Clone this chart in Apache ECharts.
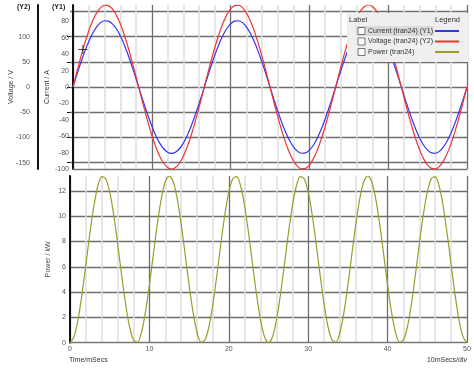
<!DOCTYPE html>
<html><head><meta charset="utf-8">
<script src="https://cdn.jsdelivr.net/npm/echarts@6/dist/echarts.min.js"></script>
<style>html,body{margin:0;padding:0;background:#fff}#c{width:474px;height:370px}</style>
</head><body><div id="c"></div>
<script>
// time axis (ms)
const times = [0,0.5,1,1.5,2,2.5,3,3.5,4,4.5,5,5.5,6,6.5,7,7.5,8,8.5,9,9.5,10,10.5,11,11.5,12,12.5,13,13.5,14,14.5,15,15.5,16,16.5,17,17.5,18,18.5,19,19.5,20,20.5,21,21.5,22,22.5,23,23.5,24,24.5,25,25.5,26,26.5,27,27.5,28,28.5,29,29.5,30,30.5,31,31.5,32,32.5,33,33.5,34,34.5,35,35.5,36,36.5,37,37.5,38,38.5,39,39.5,40,40.5,41,41.5,42,42.5,43,43.5,44,44.5,45,45.5,46,46.5,47,47.5,48,48.5,49,49.5,50];
// Current (A)
const current = [0,15.2,29.8,43.4,55.4,65.5,73.3,78.5,80.8,80.4,77.0,71.0,62.4,51.6,39.0,25.0,10.1,-5.1,-20.1,-34.5,-47.6,-59.0,-68.4,-75.3,-79.6,-81.0,-79.6,-75.3,-68.4,-59.0,-47.6,-34.5,-20.1,-5.1,10.1,25.0,39.0,51.6,62.4,71.0,77.0,80.4,80.8,78.5,73.3,65.5,55.4,43.4,29.8,15.2,0,
 -15.2,-29.8,-43.4,-55.4,-65.5,-73.3,-78.5,-80.8,-80.4,-77.0,-71.0,-62.4,-51.6,-39.0,-25.0,-10.1,5.1,20.1,34.5,47.6,59.0,68.4,75.3,79.6,81.0,79.6,75.3,68.4,59.0,47.6,34.5,20.1,5.1,-10.1,-25.0,-39.0,-51.6,-62.4,-71.0,-77.0,-80.4,-80.8,-78.5,-73.3,-65.5,-55.4,-43.4,-29.8,-15.2,0];
// Voltage (V)
const voltage = [0,30.5,59.9,87.1,111.3,131.5,147.1,157.5,162.3,161.3,154.7,142.5,125.3,103.6,78.3,50.2,20.4,-10.2,-40.4,-69.2,-95.6,-118.5,-137.3,-151.2,-159.7,-162.6,-159.7,-151.2,-137.3,-118.5,-95.6,-69.2,-40.4,-10.2,20.4,50.2,78.3,103.6,125.3,142.5,154.7,161.3,162.3,157.5,147.1,131.5,111.3,87.1,59.9,30.5,0,
 -30.5,-59.9,-87.1,-111.3,-131.5,-147.1,-157.5,-162.3,-161.3,-154.7,-142.5,-125.3,-103.6,-78.3,-50.2,-20.4,10.2,40.4,69.2,95.6,118.5,137.3,151.2,159.7,162.6,159.7,151.2,137.3,118.5,95.6,69.2,40.4,10.2,-20.4,-50.2,-78.3,-103.6,-125.3,-142.5,-154.7,-161.3,-162.3,-157.5,-147.1,-131.5,-111.3,-87.1,-59.9,-30.5,0];
// Power (kW)
const power = [0,0.46,1.78,3.78,6.17,8.62,10.78,12.36,13.12,12.96,11.91,10.11,7.82,5.35,3.06,1.26,0.21,0.05,0.82,2.39,4.55,7.00,9.39,11.39,12.71,13.17,12.71,11.39,9.39,7.00,4.55,2.39,0.82,0.05,0.21,1.26,3.06,5.35,7.82,10.11,11.91,12.96,13.12,12.36,10.78,8.62,6.17,3.78,1.78,0.46,0,
 0.46,1.78,3.78,6.17,8.62,10.78,12.36,13.12,12.96,11.91,10.11,7.82,5.35,3.06,1.26,0.21,0.05,0.82,2.39,4.55,7.00,9.39,11.39,12.71,13.17,12.71,11.39,9.39,7.00,4.55,2.39,0.82,0.05,0.21,1.26,3.06,5.35,7.82,10.11,11.91,12.96,13.12,12.36,10.78,8.62,6.17,3.78,1.78,0.46,0];
// cursor on voltage trace
const cursorPoint = [1.26, 74.4];
const seriesNames = ['Current (tran24) (Y1)', 'Voltage (tran24) (Y2)', 'Power (tran24)'];
const colors = ['#3535f0', '#ee3535', '#9c9c2a'];

const zip = (xs, ys) => xs.map((x, i) => [x, ys[i]]);
const vMax = Math.max(...voltage.map(Math.abs));
const pMax = Math.max(...power);

const FONT = 'Liberation Sans';
const lab = {fontSize: 7, color: '#555', fontFamily: FONT};
const major = {show: true, lineStyle: {color: '#6e6e6e', width: 1.3}};
const minor = {show: true, lineStyle: {color: '#dedede', width: 1.5}};
const nameStyle = {fontSize: 7, color: '#444', fontFamily: FONT};

const topY = 5, half = 82, L = 70, R = 7;
const g1top = topY + half * (1 - 150 / vMax);
const g1h = 2 * half * 150 / vMax;

function xAx(grid, labels, line) {
  return {type: 'value', gridIndex: grid, min: 0, max: 50, interval: 10,
    axisLine: {show: line, onZero: false, lineStyle: {color: '#777', width: 1.3}},
    axisTick: {show: false}, minorTick: {show: false, splitNumber: 5},
    axisLabel: Object.assign({show: labels, margin: 3}, lab),
    splitLine: line ? major : {show: false},
    minorSplitLine: line ? minor : {show: false}};
}

const Z = 100;
const chart = echarts.init(document.getElementById('c'), null, {renderer: 'canvas'});
chart.setOption({
  animation: false,
  grid: [
    {left: L, right: R, top: topY, height: 2 * half},
    {left: L, right: R, top: g1top, height: g1h},
    {left: L, right: R, top: 176, height: 166.7}
  ],
  xAxis: [xAx(0, false, true), xAx(1, false, false), xAx(2, true, true)],
  yAxis: [
    {type: 'value', gridIndex: 0, min: -100, max: 100, interval: 20,
     axisLine: {show: true, lineStyle: {color: '#111', width: 2}}, axisTick: {show: false},
     axisLabel: Object.assign({margin: 4, showMaxLabel: false}, lab), splitLine: {show: false},
     name: 'Current / A', nameLocation: 'middle', nameGap: 22, nameMoveOverlap: false,
     nameTextStyle: nameStyle},
    {type: 'value', gridIndex: 0, min: -vMax, max: vMax, position: 'left', offset: 35,
     axisLine: {show: true, lineStyle: {color: '#111', width: 2}}, axisTick: {show: false},
     axisLabel: {show: false}, splitLine: {show: false},
     name: 'Voltage / V', nameLocation: 'middle', nameGap: 23, nameMoveOverlap: false,
     nameTextStyle: nameStyle},
    {type: 'value', gridIndex: 1, min: -150, max: 150, interval: 50, position: 'left', offset: 35,
     axisLine: {show: false}, axisTick: {show: true, length: 3, lineStyle: {color: '#111', width: 1}},
     axisLabel: Object.assign({margin: 5, showMaxLabel: false}, lab), splitLine: major},
    {type: 'value', gridIndex: 2, min: 0, max: pMax, interval: 2,
     axisLine: {show: true, lineStyle: {color: '#111', width: 2}}, axisTick: {show: false},
     axisLabel: Object.assign({margin: 4, showMaxLabel: false}, lab),
     splitLine: {show: true, showMaxLine: false, showMinLine: false, lineStyle: {color: '#6e6e6e', width: 1.3}},
     name: 'Power / kW', nameLocation: 'middle', nameGap: 18, nameMoveOverlap: false,
     nameTextStyle: nameStyle}
  ],
  series: [
    {name: seriesNames[0], type: 'line', xAxisIndex: 0, yAxisIndex: 0, data: zip(times, current),
     showSymbol: false, smooth: 0.3, lineStyle: {color: colors[0], width: 1.2}, z: 3},
    {name: seriesNames[1], type: 'line', xAxisIndex: 0, yAxisIndex: 1, data: zip(times, voltage),
     showSymbol: false, smooth: 0.3, lineStyle: {color: colors[1], width: 1.2}, z: 4,
     markPoint: {symbol: 'path://M5,0L5,10M0,5L10,5', symbolSize: 9, silent: true,
       itemStyle: {color: 'none', borderColor: '#333', borderWidth: 1},
       label: {show: false}, data: [{coord: cursorPoint}]}},
    {name: seriesNames[2], type: 'line', xAxisIndex: 2, yAxisIndex: 3, data: zip(times, power),
     showSymbol: false, smooth: 0.3, lineStyle: {color: colors[2], width: 1.2}, z: 3}
  ],
  graphic: [
    {type: 'text', left: 17, top: 4, style: {text: '(Y2)', fontSize: 7, fontWeight: 'bold', fill: '#222', fontFamily: FONT}},
    {type: 'text', left: 52, top: 4, style: {text: '(Y1)', fontSize: 7, fontWeight: 'bold', fill: '#222', fontFamily: FONT}},
    {type: 'text', left: 69, top: 357, style: {text: 'Time/mSecs', fontSize: 7, fill: '#333', fontFamily: FONT}},
    {type: 'text', right: 7, top: 357, style: {text: '10mSecs/div', fontSize: 7, fill: '#333', fontFamily: FONT}},
    {type: 'group', left: 347, top: 13, z: Z, children: [
      {type: 'rect', z: Z, shape: {x: 0, y: 0, width: 121, height: 49}, style: {fill: '#efefef'}},
      {type: 'text', z: Z + 1, x: 2, y: 3, style: {text: 'Label', fontSize: 7.5, fill: '#333', fontFamily: FONT}},
      {type: 'text', z: Z + 1, x: 113, y: 3, style: {text: 'Legend', fontSize: 7.5, fill: '#333', fontFamily: FONT, align: 'right'}},
      {type: 'rect', z: Z + 1, shape: {x: 9, y: 13, width: 78, height: 10}, style: {fill: '#dadada'}},
      ...seriesNames.flatMap((n, i) => {
        const cy = 18 + i * 10.5;
        return [
          {type: 'rect', z: Z + 2, shape: {x: 11, y: cy - 3.5, width: 7, height: 7}, style: {fill: '#fff', stroke: '#555', lineWidth: 0.8}},
          {type: 'text', z: Z + 2, x: 21, y: cy, style: {text: n, fontSize: 7, fill: '#333', fontFamily: FONT, verticalAlign: 'middle'}},
          {type: 'line', z: Z + 2, shape: {x1: 88, y1: cy, x2: 112, y2: cy}, style: {stroke: colors[i], lineWidth: 2}}
        ];
      })
    ]}
  ]
});
</script></body></html>
